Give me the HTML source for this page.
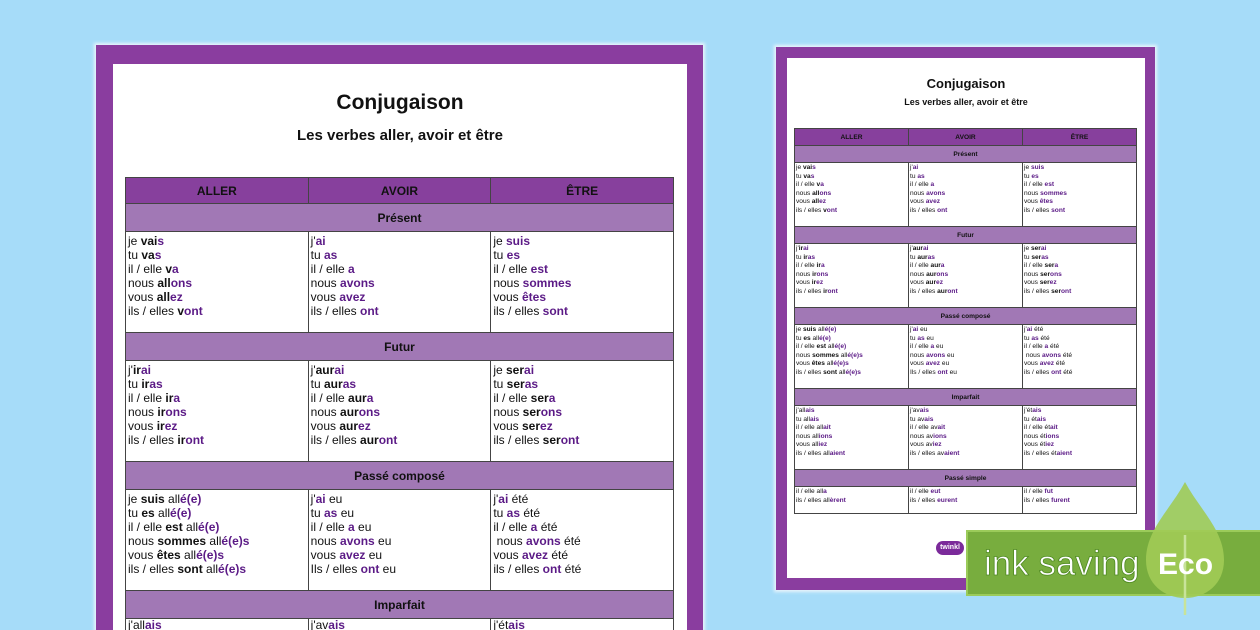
<!DOCTYPE html>
<html><head><meta charset="utf-8">
<style>
*{margin:0;padding:0;box-sizing:border-box}
html{width:1260px;height:630px;overflow:hidden}
body{width:1260px;height:630px;overflow:hidden;background:#a6dcf9;position:relative;font-family:"Liberation Sans",sans-serif;color:#111}
.clip{position:absolute;left:0;top:0;width:1260px;height:630px;overflow:hidden}
.frame{position:absolute;background:#8a3d9f;box-shadow:0 0 3px 2px #e8f4fb}
.inner{position:absolute;background:#fff}
table{position:absolute;border-collapse:collapse;table-layout:fixed}
td{border:1px solid #444;vertical-align:top}
td.h{background:#87409d;text-align:center;font-weight:bold;vertical-align:middle}
td.s{background:#a178b5;text-align:center;font-weight:bold;vertical-align:middle}
b{color:#5b1a86}
s{text-decoration:none;font-weight:bold}
.L td{font-size:12px}
.L td.c{line-height:14px;padding:2px 2px}
.L td.t{line-height:11px;padding:1px 2px 0;border-bottom:none}
.R td{font-size:6.6px}
.R td.c{line-height:8.6px;padding:1px 1px}
.title{position:absolute;text-align:center;font-weight:bold;color:#111}
</style></head><body>
<div class="clip">
<div class="frame" style="left:96px;top:45px;width:607px;height:585px"></div>
<div class="inner" style="left:113px;top:64px;width:574px;height:566px"></div>
<div class="title" style="left:113px;top:91px;width:574px;font-size:21px">Conjugaison</div>
<div class="title" style="left:113px;top:127px;width:574px;font-size:15px">Les verbes aller, avoir et être</div>
<table class="L" id="tL" style="left:125px;top:177px;width:549px"></table>
</div>

<div class="frame" style="left:776px;top:47px;width:379px;height:543px"></div>
<div class="inner" style="left:787px;top:58px;width:358px;height:520px"></div>
<div class="title" style="left:787px;top:76px;width:358px;font-size:13px">Conjugaison</div>
<div class="title" style="left:787px;top:97px;width:358px;font-size:9px">Les verbes aller, avoir et être</div>
<table class="R" id="tR" style="left:794px;top:128px;width:343px"></table>
<div style="position:absolute;left:936px;top:541px;width:28px;height:14px;border-radius:7px;background:#7b2a9a;color:#fff;font-size:7px;font-weight:bold;text-align:center;line-height:14px">twinkl</div>

<svg style="position:absolute;left:0;top:0" width="1260" height="630">
<rect x="967" y="531" width="300" height="64" fill="#78ad3e" stroke="#9bcb5a" stroke-width="2"/>
<path d="M1185 482 C1200 510 1224 530 1224 560 C1224 584 1206 598 1185 598 C1164 598 1146 584 1146 560 C1146 530 1170 510 1185 482 Z" fill="#a1cb55" opacity="0.9"/>
<line x1="1185" y1="535" x2="1185" y2="615" stroke="#c8e39a" stroke-width="2.5"/>
<text x="984" y="575" font-family="Liberation Sans" font-size="35" fill="#fff" stroke="#4f8a22" stroke-width="0.8">ink saving</text>
<text x="1158" y="574" font-family="Liberation Sans" font-size="30" font-weight="bold" fill="#fff">Eco</text>
</svg>

<script>
const sec=[
["Présent",[
["je <s>vai</s><b>s</b>","tu <s>va</s><b>s</b>","il / elle <s>v</s><b>a</b>","nous <s>all</s><b>ons</b>","vous <s>all</s><b>ez</b>","ils / elles <s>v</s><b>ont</b>"],
["j'<b>ai</b>","tu <b>as</b>","il / elle <b>a</b>","nous <b>avons</b>","vous <b>avez</b>","ils / elles <b>ont</b>"],
["je <b>suis</b>","tu <b>es</b>","il / elle <b>est</b>","nous <b>sommes</b>","vous <b>êtes</b>","ils / elles <b>sont</b>"]]],
["Futur",[
["j'<s>ir</s><b>ai</b>","tu <s>ir</s><b>as</b>","il / elle <s>ir</s><b>a</b>","nous <s>ir</s><b>ons</b>","vous <s>ir</s><b>ez</b>","ils / elles <s>ir</s><b>ont</b>"],
["j'<s>aur</s><b>ai</b>","tu <s>aur</s><b>as</b>","il / elle <s>aur</s><b>a</b>","nous <s>aur</s><b>ons</b>","vous <s>aur</s><b>ez</b>","ils / elles <s>aur</s><b>ont</b>"],
["je <s>ser</s><b>ai</b>","tu <s>ser</s><b>as</b>","il / elle <s>ser</s><b>a</b>","nous <s>ser</s><b>ons</b>","vous <s>ser</s><b>ez</b>","ils / elles <s>ser</s><b>ont</b>"]]],
["Passé composé",[
["je <s>suis</s> all<b>é(e)</b>","tu <s>es</s> all<b>é(e)</b>","il / elle <s>est</s> all<b>é(e)</b>","nous <s>sommes</s> all<b>é(e)s</b>","vous <s>êtes</s> all<b>é(e)s</b>","ils / elles <s>sont</s> all<b>é(e)s</b>"],
["j'<b>ai</b> eu","tu <b>as</b> eu","il / elle <b>a</b> eu","nous <b>avons</b> eu","vous <b>avez</b> eu","Ils / elles <b>ont</b> eu"],
["j'<b>ai</b> été","tu <b>as</b> été","il / elle <b>a</b> été","&nbsp;nous <b>avons</b> été","vous <b>avez</b> été","ils / elles <b>ont</b> été"]]],
["Imparfait",[
["j'all<b>ais</b>","tu all<b>ais</b>","il / elle all<b>ait</b>","nous all<b>ions</b>","vous all<b>iez</b>","ils / elles all<b>aient</b>"],
["j'av<b>ais</b>","tu av<b>ais</b>","il / elle av<b>ait</b>","nous av<b>ions</b>","vous av<b>iez</b>","ils / elles av<b>aient</b>"],
["j'ét<b>ais</b>","tu ét<b>ais</b>","il / elle ét<b>ait</b>","nous ét<b>ions</b>","vous ét<b>iez</b>","ils / elles ét<b>aient</b>"]]],
["Passé simple",[
["il / elle all<b>a</b>","ils / elles all<b>èrent</b>"],
["il / elle <b>eut</b>","ils / elles <b>eurent</b>"],
["il / elle <b>fut</b>","ils / elles <b>furent</b>"]]]
];
function build(id,hH,sH,rH,lastH,n,trunc){
 let h=`<colgroup><col><col><col></colgroup><tr style="height:${hH}px"><td class="h">ALLER</td><td class="h">AVOIR</td><td class="h">ÊTRE</td></tr>`;
 sec.slice(0,n).forEach((s,i)=>{
  h+=`<tr style="height:${sH}px"><td class="s" colspan="3">${s[0]}</td></tr>`;
  if(trunc && i==n-1){
   h+=`<tr style="height:12px">`+s[1].map(c=>`<td class="t">${c[0]}</td>`).join("")+"</tr>";
   return;
  }
  const H=(s[1][0].length<6)?lastH:rH;
  h+=`<tr style="height:${H}px">`+s[1].map(c=>`<td class="c">${c.join("<br>")}</td>`).join("")+"</tr>";
 });
 document.getElementById(id).innerHTML=h;
}
build("tL",26,28,101,101,4,true);
build("tR",17,17,64,27,5,false);
</script>
</body></html>
